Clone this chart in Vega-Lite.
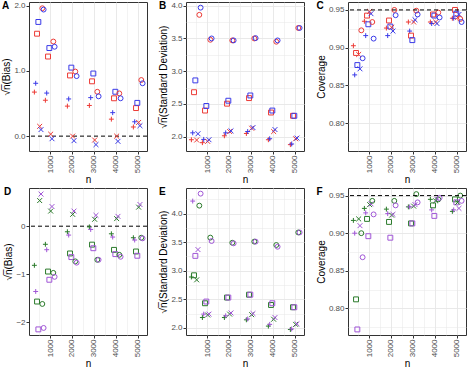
{
  "$schema": "https://vega.github.io/schema/vega-lite/v6.json",
  "padding": {"left": 1, "top": 0, "right": 2, "bottom": 0},
  "data": {"values": [
    {"panel":"A","n":500,"shape":"p","grp":1,"v":0.675},{"panel":"A","n":500,"shape":"p","grp":2,"v":0.81},{"panel":"A","n":500,"shape":"s","grp":1,"v":1.57},{"panel":"A","n":500,"shape":"s","grp":2,"v":1.75},{"panel":"A","n":500,"shape":"x","grp":1,"v":0.15},{"panel":"A","n":500,"shape":"x","grp":2,"v":0.10},{"panel":"A","n":500,"shape":"o","grp":1,"v":1.96},{"panel":"A","n":500,"shape":"o","grp":2,"v":1.94},
    {"panel":"A","n":1000,"shape":"p","grp":1,"v":0.55},{"panel":"A","n":1000,"shape":"p","grp":2,"v":0.66},{"panel":"A","n":1000,"shape":"s","grp":1,"v":1.22},{"panel":"A","n":1000,"shape":"s","grp":2,"v":1.35},{"panel":"A","n":1000,"shape":"x","grp":1,"v":0.03},{"panel":"A","n":1000,"shape":"x","grp":2,"v":-0.04},{"panel":"A","n":1000,"shape":"o","grp":1,"v":1.45},{"panel":"A","n":1000,"shape":"o","grp":2,"v":1.37},
    {"panel":"A","n":2000,"shape":"p","grp":1,"v":0.46},{"panel":"A","n":2000,"shape":"p","grp":2,"v":0.57},{"panel":"A","n":2000,"shape":"s","grp":1,"v":0.93},{"panel":"A","n":2000,"shape":"s","grp":2,"v":1.05},{"panel":"A","n":2000,"shape":"x","grp":1,"v":0.0},{"panel":"A","n":2000,"shape":"x","grp":2,"v":-0.07},{"panel":"A","n":2000,"shape":"o","grp":1,"v":0.99},{"panel":"A","n":2000,"shape":"o","grp":2,"v":0.92},
    {"panel":"A","n":3000,"shape":"p","grp":1,"v":0.47},{"panel":"A","n":3000,"shape":"p","grp":2,"v":0.59},{"panel":"A","n":3000,"shape":"s","grp":1,"v":0.84},{"panel":"A","n":3000,"shape":"s","grp":2,"v":0.96},{"panel":"A","n":3000,"shape":"x","grp":1,"v":-0.06},{"panel":"A","n":3000,"shape":"x","grp":2,"v":-0.13},{"panel":"A","n":3000,"shape":"o","grp":1,"v":0.68},{"panel":"A","n":3000,"shape":"o","grp":2,"v":0.61},
    {"panel":"A","n":4000,"shape":"p","grp":1,"v":0.26},{"panel":"A","n":4000,"shape":"p","grp":2,"v":0.36},{"panel":"A","n":4000,"shape":"s","grp":1,"v":0.58},{"panel":"A","n":4000,"shape":"s","grp":2,"v":0.68},{"panel":"A","n":4000,"shape":"x","grp":1,"v":0.0},{"panel":"A","n":4000,"shape":"x","grp":2,"v":-0.08},{"panel":"A","n":4000,"shape":"o","grp":1,"v":0.655},{"panel":"A","n":4000,"shape":"o","grp":2,"v":0.58},
    {"panel":"A","n":5000,"shape":"p","grp":1,"v":0.14},{"panel":"A","n":5000,"shape":"p","grp":2,"v":0.22},{"panel":"A","n":5000,"shape":"s","grp":1,"v":0.43},{"panel":"A","n":5000,"shape":"s","grp":2,"v":0.51},{"panel":"A","n":5000,"shape":"x","grp":1,"v":0.21},{"panel":"A","n":5000,"shape":"x","grp":2,"v":0.16},{"panel":"A","n":5000,"shape":"o","grp":1,"v":0.86},{"panel":"A","n":5000,"shape":"o","grp":2,"v":0.81},

    {"panel":"B","n":500,"shape":"p","grp":1,"v":1.955},{"panel":"B","n":500,"shape":"p","grp":2,"v":2.06},{"panel":"B","n":500,"shape":"s","grp":1,"v":2.68},{"panel":"B","n":500,"shape":"s","grp":2,"v":2.86},{"panel":"B","n":500,"shape":"x","grp":1,"v":1.95},{"panel":"B","n":500,"shape":"x","grp":2,"v":2.046},{"panel":"B","n":500,"shape":"o","grp":1,"v":3.86},{"panel":"B","n":500,"shape":"o","grp":2,"v":3.97},
    {"panel":"B","n":1000,"shape":"p","grp":1,"v":1.91},{"panel":"B","n":1000,"shape":"p","grp":2,"v":1.96},{"panel":"B","n":1000,"shape":"s","grp":1,"v":2.40},{"panel":"B","n":1000,"shape":"s","grp":2,"v":2.47},{"panel":"B","n":1000,"shape":"x","grp":1,"v":1.93},{"panel":"B","n":1000,"shape":"x","grp":2,"v":1.955},{"panel":"B","n":1000,"shape":"o","grp":1,"v":3.48},{"panel":"B","n":1000,"shape":"o","grp":2,"v":3.50},
    {"panel":"B","n":2000,"shape":"p","grp":1,"v":2.015},{"panel":"B","n":2000,"shape":"p","grp":2,"v":2.06},{"panel":"B","n":2000,"shape":"s","grp":1,"v":2.505},{"panel":"B","n":2000,"shape":"s","grp":2,"v":2.55},{"panel":"B","n":2000,"shape":"x","grp":1,"v":2.08},{"panel":"B","n":2000,"shape":"x","grp":2,"v":2.09},{"panel":"B","n":2000,"shape":"o","grp":1,"v":3.47},{"panel":"B","n":2000,"shape":"o","grp":2,"v":3.47},
    {"panel":"B","n":3000,"shape":"p","grp":1,"v":2.05},{"panel":"B","n":3000,"shape":"p","grp":2,"v":2.08},{"panel":"B","n":3000,"shape":"s","grp":1,"v":2.59},{"panel":"B","n":3000,"shape":"s","grp":2,"v":2.63},{"panel":"B","n":3000,"shape":"x","grp":1,"v":2.13},{"panel":"B","n":3000,"shape":"x","grp":2,"v":2.14},{"panel":"B","n":3000,"shape":"o","grp":1,"v":3.50},{"panel":"B","n":3000,"shape":"o","grp":2,"v":3.505},
    {"panel":"B","n":4000,"shape":"p","grp":1,"v":1.955},{"panel":"B","n":4000,"shape":"p","grp":2,"v":1.97},{"panel":"B","n":4000,"shape":"s","grp":1,"v":2.37},{"panel":"B","n":4000,"shape":"s","grp":2,"v":2.40},{"panel":"B","n":4000,"shape":"x","grp":1,"v":2.08},{"panel":"B","n":4000,"shape":"x","grp":2,"v":2.11},{"panel":"B","n":4000,"shape":"o","grp":1,"v":3.45},{"panel":"B","n":4000,"shape":"o","grp":2,"v":3.47},
    {"panel":"B","n":5000,"shape":"p","grp":1,"v":1.88},{"panel":"B","n":5000,"shape":"p","grp":2,"v":1.89},{"panel":"B","n":5000,"shape":"s","grp":1,"v":2.32},{"panel":"B","n":5000,"shape":"s","grp":2,"v":2.32},{"panel":"B","n":5000,"shape":"x","grp":1,"v":1.97},{"panel":"B","n":5000,"shape":"x","grp":2,"v":1.98},{"panel":"B","n":5000,"shape":"o","grp":1,"v":3.66},{"panel":"B","n":5000,"shape":"o","grp":2,"v":3.66},

    {"panel":"C","n":500,"shape":"p","grp":1,"v":0.9026},{"panel":"C","n":500,"shape":"p","grp":2,"v":0.864},{"panel":"C","n":500,"shape":"s","grp":1,"v":0.893},{"panel":"C","n":500,"shape":"s","grp":2,"v":0.877},{"panel":"C","n":500,"shape":"x","grp":1,"v":0.891},{"panel":"C","n":500,"shape":"x","grp":2,"v":0.872},{"panel":"C","n":500,"shape":"o","grp":1,"v":0.923},{"panel":"C","n":500,"shape":"o","grp":2,"v":0.886},
    {"panel":"C","n":1000,"shape":"p","grp":1,"v":0.935},{"panel":"C","n":1000,"shape":"p","grp":2,"v":0.916},{"panel":"C","n":1000,"shape":"s","grp":1,"v":0.9425},{"panel":"C","n":1000,"shape":"s","grp":2,"v":0.931},{"panel":"C","n":1000,"shape":"x","grp":1,"v":0.948},{"panel":"C","n":1000,"shape":"x","grp":2,"v":0.945},{"panel":"C","n":1000,"shape":"o","grp":1,"v":0.934},{"panel":"C","n":1000,"shape":"o","grp":2,"v":0.912},
    {"panel":"C","n":2000,"shape":"p","grp":1,"v":0.926},{"panel":"C","n":2000,"shape":"p","grp":2,"v":0.916},{"panel":"C","n":2000,"shape":"s","grp":1,"v":0.936},{"panel":"C","n":2000,"shape":"s","grp":2,"v":0.928},{"panel":"C","n":2000,"shape":"x","grp":1,"v":0.927},{"panel":"C","n":2000,"shape":"x","grp":2,"v":0.922},{"panel":"C","n":2000,"shape":"o","grp":1,"v":0.95},{"panel":"C","n":2000,"shape":"o","grp":2,"v":0.943},
    {"panel":"C","n":3000,"shape":"p","grp":1,"v":0.934},{"panel":"C","n":3000,"shape":"p","grp":2,"v":0.922},{"panel":"C","n":3000,"shape":"s","grp":1,"v":0.916},{"panel":"C","n":3000,"shape":"s","grp":2,"v":0.910},{"panel":"C","n":3000,"shape":"x","grp":1,"v":0.934},{"panel":"C","n":3000,"shape":"x","grp":2,"v":0.937},{"panel":"C","n":3000,"shape":"o","grp":1,"v":0.949},{"panel":"C","n":3000,"shape":"o","grp":2,"v":0.944},
    {"panel":"C","n":4000,"shape":"p","grp":1,"v":0.934},{"panel":"C","n":4000,"shape":"p","grp":2,"v":0.932},{"panel":"C","n":4000,"shape":"s","grp":1,"v":0.944},{"panel":"C","n":4000,"shape":"s","grp":2,"v":0.9425},{"panel":"C","n":4000,"shape":"x","grp":1,"v":0.934},{"panel":"C","n":4000,"shape":"x","grp":2,"v":0.932},{"panel":"C","n":4000,"shape":"o","grp":1,"v":0.9465},{"panel":"C","n":4000,"shape":"o","grp":2,"v":0.94},
    {"panel":"C","n":5000,"shape":"p","grp":1,"v":0.939},{"panel":"C","n":5000,"shape":"p","grp":2,"v":0.939},{"panel":"C","n":5000,"shape":"s","grp":1,"v":0.95},{"panel":"C","n":5000,"shape":"s","grp":2,"v":0.945},{"panel":"C","n":5000,"shape":"x","grp":1,"v":0.940},{"panel":"C","n":5000,"shape":"x","grp":2,"v":0.944},{"panel":"C","n":5000,"shape":"o","grp":1,"v":0.938},{"panel":"C","n":5000,"shape":"o","grp":2,"v":0.934},

    {"panel":"D","n":500,"shape":"p","grp":1,"v":-0.815},{"panel":"D","n":500,"shape":"p","grp":2,"v":-1.36},{"panel":"D","n":500,"shape":"s","grp":1,"v":-1.57},{"panel":"D","n":500,"shape":"s","grp":2,"v":-2.15},{"panel":"D","n":500,"shape":"x","grp":1,"v":0.534},{"panel":"D","n":500,"shape":"x","grp":2,"v":0.67},{"panel":"D","n":500,"shape":"o","grp":1,"v":-1.62},{"panel":"D","n":500,"shape":"o","grp":2,"v":-2.12},
    {"panel":"D","n":1000,"shape":"p","grp":1,"v":-0.377},{"panel":"D","n":1000,"shape":"p","grp":2,"v":-0.49},{"panel":"D","n":1000,"shape":"s","grp":1,"v":-0.945},{"panel":"D","n":1000,"shape":"s","grp":2,"v":-1.116},{"panel":"D","n":1000,"shape":"x","grp":1,"v":0.315},{"panel":"D","n":1000,"shape":"x","grp":2,"v":0.41},{"panel":"D","n":1000,"shape":"o","grp":1,"v":-0.973},{"panel":"D","n":1000,"shape":"o","grp":2,"v":-1.055},
    {"panel":"D","n":2000,"shape":"p","grp":1,"v":-0.116},{"panel":"D","n":2000,"shape":"p","grp":2,"v":-0.185},{"panel":"D","n":2000,"shape":"s","grp":1,"v":-0.568},{"panel":"D","n":2000,"shape":"s","grp":2,"v":-0.644},{"panel":"D","n":2000,"shape":"x","grp":1,"v":0.247},{"panel":"D","n":2000,"shape":"x","grp":2,"v":0.315},{"panel":"D","n":2000,"shape":"o","grp":1,"v":-0.733},{"panel":"D","n":2000,"shape":"o","grp":2,"v":-0.76},
    {"panel":"D","n":3000,"shape":"p","grp":1,"v":-0.014},{"panel":"D","n":3000,"shape":"p","grp":2,"v":-0.068},{"panel":"D","n":3000,"shape":"s","grp":1,"v":-0.384},{"panel":"D","n":3000,"shape":"s","grp":2,"v":-0.459},{"panel":"D","n":3000,"shape":"x","grp":1,"v":0.144},{"panel":"D","n":3000,"shape":"x","grp":2,"v":0.226},{"panel":"D","n":3000,"shape":"o","grp":1,"v":-0.70},{"panel":"D","n":3000,"shape":"o","grp":2,"v":-0.70},
    {"panel":"D","n":4000,"shape":"p","grp":1,"v":-0.158},{"panel":"D","n":4000,"shape":"p","grp":2,"v":-0.226},{"panel":"D","n":4000,"shape":"s","grp":1,"v":-0.493},{"panel":"D","n":4000,"shape":"s","grp":2,"v":-0.582},{"panel":"D","n":4000,"shape":"x","grp":1,"v":0.158},{"panel":"D","n":4000,"shape":"x","grp":2,"v":0.205},{"panel":"D","n":4000,"shape":"o","grp":1,"v":-0.596},{"panel":"D","n":4000,"shape":"o","grp":2,"v":-0.637},
    {"panel":"D","n":5000,"shape":"p","grp":1,"v":-0.24},{"panel":"D","n":5000,"shape":"p","grp":2,"v":-0.288},{"panel":"D","n":5000,"shape":"s","grp":1,"v":-0.527},{"panel":"D","n":5000,"shape":"s","grp":2,"v":-0.616},{"panel":"D","n":5000,"shape":"x","grp":1,"v":0.397},{"panel":"D","n":5000,"shape":"x","grp":2,"v":0.452},{"panel":"D","n":5000,"shape":"o","grp":1,"v":-0.24},{"panel":"D","n":5000,"shape":"o","grp":2,"v":-0.253},

    {"panel":"E","n":500,"shape":"p","grp":1,"v":2.89},{"panel":"E","n":500,"shape":"p","grp":2,"v":4.22},{"panel":"E","n":500,"shape":"s","grp":1,"v":2.92},{"panel":"E","n":500,"shape":"s","grp":2,"v":3.26},{"panel":"E","n":500,"shape":"x","grp":1,"v":2.84},{"panel":"E","n":500,"shape":"x","grp":2,"v":3.37},{"panel":"E","n":500,"shape":"o","grp":1,"v":4.14},{"panel":"E","n":500,"shape":"o","grp":2,"v":4.35},
    {"panel":"E","n":1000,"shape":"p","grp":1,"v":2.18},{"panel":"E","n":1000,"shape":"p","grp":2,"v":2.24},{"panel":"E","n":1000,"shape":"s","grp":1,"v":2.43},{"panel":"E","n":1000,"shape":"s","grp":2,"v":2.46},{"panel":"E","n":1000,"shape":"x","grp":1,"v":2.225},{"panel":"E","n":1000,"shape":"x","grp":2,"v":2.24},{"panel":"E","n":1000,"shape":"o","grp":1,"v":3.58},{"panel":"E","n":1000,"shape":"o","grp":2,"v":3.52},
    {"panel":"E","n":2000,"shape":"p","grp":1,"v":2.18},{"panel":"E","n":2000,"shape":"p","grp":2,"v":2.21},{"panel":"E","n":2000,"shape":"s","grp":1,"v":2.53},{"panel":"E","n":2000,"shape":"s","grp":2,"v":2.53},{"panel":"E","n":2000,"shape":"x","grp":1,"v":2.24},{"panel":"E","n":2000,"shape":"x","grp":2,"v":2.26},{"panel":"E","n":2000,"shape":"o","grp":1,"v":3.49},{"panel":"E","n":2000,"shape":"o","grp":2,"v":3.48},
    {"panel":"E","n":3000,"shape":"p","grp":1,"v":2.14},{"panel":"E","n":3000,"shape":"p","grp":2,"v":2.155},{"panel":"E","n":3000,"shape":"s","grp":1,"v":2.58},{"panel":"E","n":3000,"shape":"s","grp":2,"v":2.58},{"panel":"E","n":3000,"shape":"x","grp":1,"v":2.23},{"panel":"E","n":3000,"shape":"x","grp":2,"v":2.25},{"panel":"E","n":3000,"shape":"o","grp":1,"v":3.51},{"panel":"E","n":3000,"shape":"o","grp":2,"v":3.51},
    {"panel":"E","n":4000,"shape":"p","grp":1,"v":2.03},{"panel":"E","n":4000,"shape":"p","grp":2,"v":2.06},{"panel":"E","n":4000,"shape":"s","grp":1,"v":2.40},{"panel":"E","n":4000,"shape":"s","grp":2,"v":2.43},{"panel":"E","n":4000,"shape":"x","grp":1,"v":2.15},{"panel":"E","n":4000,"shape":"x","grp":2,"v":2.18},{"panel":"E","n":4000,"shape":"o","grp":1,"v":3.45},{"panel":"E","n":4000,"shape":"o","grp":2,"v":3.42},
    {"panel":"E","n":5000,"shape":"p","grp":1,"v":1.97},{"panel":"E","n":5000,"shape":"p","grp":2,"v":1.98},{"panel":"E","n":5000,"shape":"s","grp":1,"v":2.36},{"panel":"E","n":5000,"shape":"s","grp":2,"v":2.36},{"panel":"E","n":5000,"shape":"x","grp":1,"v":2.06},{"panel":"E","n":5000,"shape":"x","grp":2,"v":2.07},{"panel":"E","n":5000,"shape":"o","grp":1,"v":3.67},{"panel":"E","n":5000,"shape":"o","grp":2,"v":3.67},

    {"panel":"F","n":500,"shape":"p","grp":1,"v":0.917},{"panel":"F","n":500,"shape":"p","grp":2,"v":0.90},{"panel":"F","n":500,"shape":"s","grp":1,"v":0.812},{"panel":"F","n":500,"shape":"s","grp":2,"v":0.772},{"panel":"F","n":500,"shape":"x","grp":1,"v":0.919},{"panel":"F","n":500,"shape":"x","grp":2,"v":0.91},{"panel":"F","n":500,"shape":"o","grp":1,"v":0.90},{"panel":"F","n":500,"shape":"o","grp":2,"v":0.868},
    {"panel":"F","n":1000,"shape":"p","grp":1,"v":0.933},{"panel":"F","n":1000,"shape":"p","grp":2,"v":0.927},{"panel":"F","n":1000,"shape":"s","grp":1,"v":0.919},{"panel":"F","n":1000,"shape":"s","grp":2,"v":0.896},{"panel":"F","n":1000,"shape":"x","grp":1,"v":0.938},{"panel":"F","n":1000,"shape":"x","grp":2,"v":0.939},{"panel":"F","n":1000,"shape":"o","grp":1,"v":0.943},{"panel":"F","n":1000,"shape":"o","grp":2,"v":0.925},
    {"panel":"F","n":2000,"shape":"p","grp":1,"v":0.932},{"panel":"F","n":2000,"shape":"p","grp":2,"v":0.926},{"panel":"F","n":2000,"shape":"s","grp":1,"v":0.915},{"panel":"F","n":2000,"shape":"s","grp":2,"v":0.894},{"panel":"F","n":2000,"shape":"x","grp":1,"v":0.924},{"panel":"F","n":2000,"shape":"x","grp":2,"v":0.925},{"panel":"F","n":2000,"shape":"o","grp":1,"v":0.943},{"panel":"F","n":2000,"shape":"o","grp":2,"v":0.937},
    {"panel":"F","n":3000,"shape":"p","grp":1,"v":0.935},{"panel":"F","n":3000,"shape":"p","grp":2,"v":0.935},{"panel":"F","n":3000,"shape":"s","grp":1,"v":0.913},{"panel":"F","n":3000,"shape":"s","grp":2,"v":0.913},{"panel":"F","n":3000,"shape":"x","grp":1,"v":0.936},{"panel":"F","n":3000,"shape":"x","grp":2,"v":0.938},{"panel":"F","n":3000,"shape":"o","grp":1,"v":0.952},{"panel":"F","n":3000,"shape":"o","grp":2,"v":0.941},
    {"panel":"F","n":4000,"shape":"p","grp":1,"v":0.945},{"panel":"F","n":4000,"shape":"p","grp":2,"v":0.931},{"panel":"F","n":4000,"shape":"s","grp":1,"v":0.937},{"panel":"F","n":4000,"shape":"s","grp":2,"v":0.923},{"panel":"F","n":4000,"shape":"x","grp":1,"v":0.943},{"panel":"F","n":4000,"shape":"x","grp":2,"v":0.945},{"panel":"F","n":4000,"shape":"o","grp":1,"v":0.945},{"panel":"F","n":4000,"shape":"o","grp":2,"v":0.947},
    {"panel":"F","n":5000,"shape":"p","grp":1,"v":0.929},{"panel":"F","n":5000,"shape":"p","grp":2,"v":0.931},{"panel":"F","n":5000,"shape":"s","grp":1,"v":0.945},{"panel":"F","n":5000,"shape":"s","grp":2,"v":0.941},{"panel":"F","n":5000,"shape":"x","grp":1,"v":0.941},{"panel":"F","n":5000,"shape":"x","grp":2,"v":0.933},{"panel":"F","n":5000,"shape":"o","grp":1,"v":0.95},{"panel":"F","n":5000,"shape":"o","grp":2,"v":0.943}
  ]},
  "columns": 3,
  "spacing": {"row": 0, "column": 10},
  "resolve": {"scale": {"color": "independent", "x": "independent", "y": "independent", "shape": "independent"}},
  "concat": [
    {
      "title": {"text": "A"},
      "width": 118, "height": 149,
      "layer": [
        {"data": {"values": [{}]}, "mark": {"type": "rule", "strokeDash": [4, 3], "color": "#000000", "strokeWidth": 1}, "encoding": {"y": {"datum": 0, "type": "quantitative"}}},
        {
          "transform": [{"filter": "datum.panel == 'A'"}, {"calculate": "datum.n + (indexof(['p1','p2','s1','s2','x1','x2','o1','o2'], datum.shape + datum.grp) - 3.5) * 60", "as": "xd"}],
          "mark": {"type": "point", "filled": false, "size": 24, "strokeWidth": 1, "opacity": 1},
          "encoding": {
            "x": {"field": "xd", "type": "quantitative", "scale": {"domain": [45, 5410], "nice": false, "zero": false},
              "axis": {"title": "n", "values": [500,1000,1500,2000,2500,3000,3500,4000,4500,5000], "format": "d", "labelAngle": 270, "labelExpr": "datum.value % 1000 == 0 ? datum.label : ''", "tickSize": {"condition": {"test": "datum.value % 1000 != 0", "value": 0}, "value": 3}, "gridWidth": {"condition": {"test": "datum.value % 1000 != 0", "value": 0.5}, "value": 0.9}}},
            "y": {"field": "v", "type": "quantitative", "scale": {"domain": [-0.228, 2.056], "nice": false, "zero": false},
              "axis": {"title": "√n̅(Bias)", "values": [0,0.25,0.5,0.75,1,1.25,1.5,1.75,2], "labelExpr": "abs(round(datum.value*2) - datum.value*2) > 0.1 ? '' : format(datum.value, '.1f')", "tickSize": {"condition": {"test": "abs(round(datum.value*2) - datum.value*2) > 0.1", "value": 0}, "value": 3}, "gridWidth": {"condition": {"test": "abs(round(datum.value*2) - datum.value*2) > 0.1", "value": 0.5}, "value": 0.9}}},
            "color": {"field": "grp", "type": "nominal", "scale": {"domain": [1, 2], "range": ["#ec3a35", "#3a3ae8"]}, "legend": null},
            "shape": {"field": "shape", "type": "nominal", "scale": {"domain": ["p","s","x","o"], "range": ["M-1,0H1M0,-1V1", "square", "M-1,-1L1,1M-1,1L1,-1", "circle"]}, "legend": null}
          }
        }
      ]
    },
    {
      "title": {"text": "B"},
      "width": 118, "height": 149,
      "layer": [
        {
          "transform": [{"filter": "datum.panel == 'B'"}, {"calculate": "datum.n + (indexof(['p1','p2','s1','s2','x1','x2','o1','o2'], datum.shape + datum.grp) - 3.5) * 60", "as": "xd"}],
          "mark": {"type": "point", "filled": false, "size": 24, "strokeWidth": 1, "opacity": 1},
          "encoding": {
            "x": {"field": "xd", "type": "quantitative", "scale": {"domain": [45, 5410], "nice": false, "zero": false},
              "axis": {"title": "n", "values": [500,1000,1500,2000,2500,3000,3500,4000,4500,5000], "format": "d", "labelAngle": 270, "labelExpr": "datum.value % 1000 == 0 ? datum.label : ''", "tickSize": {"condition": {"test": "datum.value % 1000 != 0", "value": 0}, "value": 3}, "gridWidth": {"condition": {"test": "datum.value % 1000 != 0", "value": 0.5}, "value": 0.9}}},
            "y": {"field": "v", "type": "quantitative", "scale": {"domain": [1.783, 4.056], "nice": false, "zero": false},
              "axis": {"title": "√n̅(Standard Deviation)", "values": [2,2.25,2.5,2.75,3,3.25,3.5,3.75,4], "labelExpr": "abs(round(datum.value*2) - datum.value*2) > 0.1 ? '' : format(datum.value, '.1f')", "tickSize": {"condition": {"test": "abs(round(datum.value*2) - datum.value*2) > 0.1", "value": 0}, "value": 3}, "gridWidth": {"condition": {"test": "abs(round(datum.value*2) - datum.value*2) > 0.1", "value": 0.5}, "value": 0.9}}},
            "color": {"field": "grp", "type": "nominal", "scale": {"domain": [1, 2], "range": ["#ec3a35", "#3a3ae8"]}, "legend": null},
            "shape": {"field": "shape", "type": "nominal", "scale": {"domain": ["p","s","x","o"], "range": ["M-1,0H1M0,-1V1", "square", "M-1,-1L1,1M-1,1L1,-1", "circle"]}, "legend": null}
          }
        }
      ]
    },
    {
      "title": {"text": "C"},
      "width": 118, "height": 149,
      "resolve": {"axis": {"y": "independent"}},
      "layer": [
        {
          "transform": [{"filter": "datum.panel == 'C'"}, {"calculate": "datum.n + (indexof(['p1','p2','s1','s2','x1','x2','o1','o2'], datum.shape + datum.grp) - 3.5) * 60", "as": "xd"}],
          "mark": {"type": "point", "filled": false, "size": 24, "strokeWidth": 1, "opacity": 1},
          "encoding": {
            "x": {"field": "xd", "type": "quantitative", "scale": {"domain": [45, 5410], "nice": false, "zero": false},
              "axis": {"title": "n", "values": [500,1000,1500,2000,2500,3000,3500,4000,4500,5000], "format": "d", "labelAngle": 270, "labelExpr": "datum.value % 1000 == 0 ? datum.label : ''", "tickSize": {"condition": {"test": "datum.value % 1000 != 0", "value": 0}, "value": 3}, "gridWidth": {"condition": {"test": "datum.value % 1000 != 0", "value": 0.5}, "value": 0.9}}},
            "y": {"field": "v", "type": "quantitative", "scale": {"domain": [0.7632, 0.9605], "nice": false, "zero": false},
              "axis": {"title": "Coverage", "values": [0.8,0.85,0.9,0.95], "format": ".2f"}},
            "color": {"field": "grp", "type": "nominal", "scale": {"domain": [1, 2], "range": ["#ec3a35", "#3a3ae8"]}, "legend": null},
            "shape": {"field": "shape", "type": "nominal", "scale": {"domain": ["p","s","x","o"], "range": ["M-1,0H1M0,-1V1", "square", "M-1,-1L1,1M-1,1L1,-1", "circle"]}, "legend": null}
          }
        },
        {"data": {"values": [{}]}, "mark": {"type": "rule", "strokeDash": [4, 3], "color": "#000000", "strokeWidth": 1}, "encoding": {"y": {"datum": 0.95, "type": "quantitative", "axis": {"orient": "right", "values": [0.775,0.825,0.875,0.925], "labels": false, "ticks": false, "domain": false, "title": null, "grid": true, "gridWidth": 0.5}}}}
      ]
    },
    {
      "title": {"text": "D"},
      "width": 118, "height": 147,
      "layer": [
        {"data": {"values": [{}]}, "mark": {"type": "rule", "strokeDash": [4, 3], "color": "#000000", "strokeWidth": 1}, "encoding": {"y": {"datum": 0, "type": "quantitative"}}},
        {
          "transform": [{"filter": "datum.panel == 'D'"}, {"calculate": "datum.n + (indexof(['p1','p2','s1','s2','x1','x2','o1','o2'], datum.shape + datum.grp) - 3.5) * 60", "as": "xd"}],
          "mark": {"type": "point", "filled": false, "size": 24, "strokeWidth": 1, "opacity": 1},
          "encoding": {
            "x": {"field": "xd", "type": "quantitative", "scale": {"domain": [45, 5410], "nice": false, "zero": false},
              "axis": {"title": "n", "values": [500,1000,1500,2000,2500,3000,3500,4000,4500,5000], "format": "d", "labelAngle": 270, "labelExpr": "datum.value % 1000 == 0 ? datum.label : ''", "tickSize": {"condition": {"test": "datum.value % 1000 != 0", "value": 0}, "value": 3}, "gridWidth": {"condition": {"test": "datum.value % 1000 != 0", "value": 0.5}, "value": 0.9}}},
            "y": {"field": "v", "type": "quantitative", "scale": {"domain": [-2.267, 0.796], "nice": false, "zero": false},
              "axis": {"title": "√n̅(Bias)", "values": [-2,-1.5,-1,-0.5,0,0.5], "labelExpr": "abs(round(datum.value) - datum.value) > 0.1 ? '' : format(datum.value, 'd')", "tickSize": {"condition": {"test": "abs(round(datum.value) - datum.value) > 0.1", "value": 0}, "value": 3}, "gridWidth": {"condition": {"test": "abs(round(datum.value) - datum.value) > 0.1", "value": 0.5}, "value": 0.9}}},
            "color": {"field": "grp", "type": "nominal", "scale": {"domain": [1, 2], "range": ["#2a7a2a", "#a056d6"]}, "legend": null},
            "shape": {"field": "shape", "type": "nominal", "scale": {"domain": ["p","s","x","o"], "range": ["M-1,0H1M0,-1V1", "square", "M-1,-1L1,1M-1,1L1,-1", "circle"]}, "legend": null}
          }
        }
      ]
    },
    {
      "title": {"text": "E"},
      "width": 118, "height": 147,
      "layer": [
        {
          "transform": [{"filter": "datum.panel == 'E'"}, {"calculate": "datum.n + (indexof(['p1','p2','s1','s2','x1','x2','o1','o2'], datum.shape + datum.grp) - 3.5) * 60", "as": "xd"}],
          "mark": {"type": "point", "filled": false, "size": 24, "strokeWidth": 1, "opacity": 1},
          "encoding": {
            "x": {"field": "xd", "type": "quantitative", "scale": {"domain": [45, 5410], "nice": false, "zero": false},
              "axis": {"title": "n", "values": [500,1000,1500,2000,2500,3000,3500,4000,4500,5000], "format": "d", "labelAngle": 270, "labelExpr": "datum.value % 1000 == 0 ? datum.label : ''", "tickSize": {"condition": {"test": "datum.value % 1000 != 0", "value": 0}, "value": 3}, "gridWidth": {"condition": {"test": "datum.value % 1000 != 0", "value": 0.5}, "value": 0.9}}},
            "y": {"field": "v", "type": "quantitative", "scale": {"domain": [1.874, 4.449], "nice": false, "zero": false},
              "axis": {"title": "√n̅(Standard Deviation)", "values": [2,2.25,2.5,2.75,3,3.25,3.5,3.75,4,4.25], "labelExpr": "abs(round(datum.value*2) - datum.value*2) > 0.1 ? '' : format(datum.value, '.1f')", "tickSize": {"condition": {"test": "abs(round(datum.value*2) - datum.value*2) > 0.1", "value": 0}, "value": 3}, "gridWidth": {"condition": {"test": "abs(round(datum.value*2) - datum.value*2) > 0.1", "value": 0.5}, "value": 0.9}}},
            "color": {"field": "grp", "type": "nominal", "scale": {"domain": [1, 2], "range": ["#2a7a2a", "#a056d6"]}, "legend": null},
            "shape": {"field": "shape", "type": "nominal", "scale": {"domain": ["p","s","x","o"], "range": ["M-1,0H1M0,-1V1", "square", "M-1,-1L1,1M-1,1L1,-1", "circle"]}, "legend": null}
          }
        }
      ]
    },
    {
      "title": {"text": "F"},
      "width": 118, "height": 147,
      "resolve": {"axis": {"y": "independent"}},
      "layer": [
        {
          "transform": [{"filter": "datum.panel == 'F'"}, {"calculate": "datum.n + (indexof(['p1','p2','s1','s2','x1','x2','o1','o2'], datum.shape + datum.grp) - 3.5) * 60", "as": "xd"}],
          "mark": {"type": "point", "filled": false, "size": 24, "strokeWidth": 1, "opacity": 1},
          "encoding": {
            "x": {"field": "xd", "type": "quantitative", "scale": {"domain": [45, 5410], "nice": false, "zero": false},
              "axis": {"title": "n", "values": [500,1000,1500,2000,2500,3000,3500,4000,4500,5000], "format": "d", "labelAngle": 270, "labelExpr": "datum.value % 1000 == 0 ? datum.label : ''", "tickSize": {"condition": {"test": "datum.value % 1000 != 0", "value": 0}, "value": 3}, "gridWidth": {"condition": {"test": "datum.value % 1000 != 0", "value": 0.5}, "value": 0.9}}},
            "y": {"field": "v", "type": "quantitative", "scale": {"domain": [0.7646, 0.9601], "nice": false, "zero": false},
              "axis": {"title": "Coverage", "values": [0.8,0.85,0.9,0.95], "format": ".2f"}},
            "color": {"field": "grp", "type": "nominal", "scale": {"domain": [1, 2], "range": ["#2a7a2a", "#a056d6"]}, "legend": null},
            "shape": {"field": "shape", "type": "nominal", "scale": {"domain": ["p","s","x","o"], "range": ["M-1,0H1M0,-1V1", "square", "M-1,-1L1,1M-1,1L1,-1", "circle"]}, "legend": null}
          }
        },
        {"data": {"values": [{}]}, "mark": {"type": "rule", "strokeDash": [4, 3], "color": "#000000", "strokeWidth": 1}, "encoding": {"y": {"datum": 0.95, "type": "quantitative", "axis": {"orient": "right", "values": [0.775,0.825,0.875,0.925], "labels": false, "ticks": false, "domain": false, "title": null, "grid": true, "gridWidth": 0.5}}}}
      ]
    }
  ],
  "config": {
    "font": "Liberation Sans",
    "view": {"stroke": "#333333", "strokeWidth": 1},
    "axis": {"domain": false, "tickColor": "#333333", "tickWidth": 1, "tickSize": 3, "labelColor": "#4d4d4d", "labelFontSize": 8, "labelPadding": 1, "titleFontSize": 10, "titleFontWeight": "normal", "titleColor": "#000000", "titlePadding": 2, "gridColor": "#e6e6e6", "gridWidth": 0.9, "labelOverlap": false, "labelFlush": false},
    "title": {"anchor": "start", "frame": "bounds", "offset": -9, "fontSize": 10, "fontWeight": "bold", "color": "#000000"}
  }
}
